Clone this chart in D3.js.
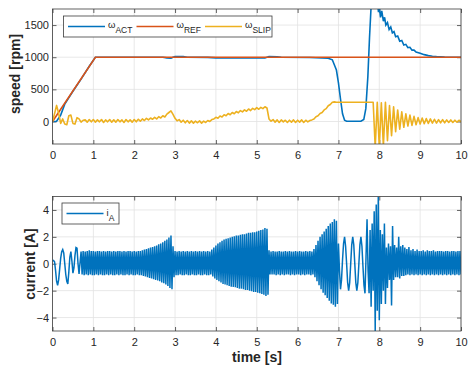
<!DOCTYPE html>
<html>
<head>
<meta charset="utf-8">
<script src="https://cdn.jsdelivr.net/npm/d3@7"></script>
<style>
  body { margin: 0; background: #fff; }
  svg { display: block; font-family: "Liberation Sans", Arial, sans-serif; }
</style>
</head>
<body>
<svg id="chart" width="474" height="368"></svg>
<script>
// ---- data ----
const timeTicks = [0, 1, 2, 3, 4, 5, 6, 7, 8, 9, 10];
const speedTicks = [0, 500, 1000, 1500];
const currentTicks = [-4, -2, 0, 2, 4];

// reference speed [t, rpm]
const wRef = [[0, 0], [1.05, 1000], [10, 1000]];

// actual speed [t, rpm]
const wAct = [
  [0, 0], [0.1, 5], [0.2, 100], [0.3, 270], [0.5, 470], [0.7, 660], [0.9, 860],
  [1.05, 1000], [2.7, 1000], [2.8, 990], [2.9, 985], [2.95, 1000], [3.0, 1012],
  [3.2, 1010], [3.3, 1000], [3.8, 998], [4.0, 990], [4.8, 988], [5.2, 988],
  [5.3, 1010], [5.5, 1005], [5.6, 1000], [6.3, 995], [6.6, 988], [6.75, 985],
  [6.85, 960], [6.95, 800], [7.0, 600], [7.05, 350], [7.1, 120], [7.15, 20],
  [7.2, 5], [7.55, 5], [7.62, 30], [7.67, 200], [7.72, 700], [7.76, 1300],
  [7.8, 1800], [7.85, 2100], [7.95, 1900], [7.98, 1700], [8.0, 1780],
  [8.03, 1620], [8.06, 1720], [8.1, 1560], [8.13, 1620], [8.16, 1500],
  [8.2, 1540], [8.24, 1430], [8.28, 1470], [8.32, 1380], [8.36, 1400],
  [8.4, 1320], [8.45, 1330], [8.5, 1250], [8.55, 1260], [8.6, 1190],
  [8.65, 1200], [8.7, 1150], [8.75, 1155], [8.8, 1110], [8.85, 1110],
  [8.9, 1080], [9.0, 1060], [9.1, 1040], [9.2, 1025], [9.3, 1015],
  [9.4, 1010], [9.6, 1004], [10, 1000]
];

// slip speed, one sample every 0.05 s
const slipDt = 0.05;
const wSlip = [
  0, 120, 250, 130, -30, 40, -40, -50, 90, 100, -30, -40, 60, 40, -10, 20, 25, -10, 30, -5,
  30, -10, 25, -5, 30, -15, 25, -5, 30, -10, 25, -10, 30, -5, 25, -15, 30, -5, 25, -10,
  30, -5, 35, 5, 40, 15, 50, 25, 55, 35, 65, 40, 75, 55, 90, 70, 115, 140, 165, 110,
  50, 10, 30, -10, 20, -20, 15, -25, 10, -25, 5, -20, 10, -25, 5, -15, 15, 0, 30, 40,
  65, 50, 85, 70, 105, 90, 125, 105, 140, 120, 155, 135, 170, 150, 180, 160, 195, 170, 205, 185,
  215, 190, 220, 200, 230, 210, 40, 5, 30, -10, 25, -15, 25, -5, 20, -15, 20, -10, 25, -15,
  20, -10, 25, -15, 20, -5, 15, 25, 40, 75, 90, 125, 140, 180, 200, 245, 265, 300, 305, 300,
  300, 300, 300, 300, 300, 300, 300, 300, 300, 300, 300, 300, 300, 300, 300, 300, 300, 300, -400, 300,
  -400, 290, -380, 300, -300, 250, -220, 230, -160, 180, -120, 150, -90, 120, -70, 100, -60, 80, -50, 60,
  -40, 55, -35, 45, -30, 40, -25, 35, -25, 30, -20, 30, -20, 25, -15, 25, -15, 20, -10, 20,
  -5
];

// phase current, one sample every 0.025 s
const iaDt = 0.025;
const iA = [
  0.2, 0.25, 0.15, -0.5, -1.3, -1.6, -1.2, -0.4, 0.4, 0.9, 1.05, 0.8, 0.0, -0.8, -1.3, -1.5, -0.6, 0.5, 0.9, 0.2,
  -0.7, -0.3, 0.6, 1.2, 1.15, 0.0, -0.75, 0.1, 0.9, -0.8, 0.95, -0.85, 0.9, -0.8, 0.95, -0.85, 1.0, -0.8, 0.95, -0.85,
  0.95, -0.85, 0.9, -0.8, 0.95, -0.85, 0.95, -0.8, 0.9, -0.85, 0.95, -0.85, 0.9, -0.8, 0.95, -0.85, 0.95, -0.8, 0.9, -0.85,
  0.95, -0.85, 0.9, -0.8, 0.95, -0.85, 0.95, -0.8, 0.9, -0.85, 0.95, -0.85, 0.9, -0.8, 0.95, -0.85, 0.95, -0.8, 0.9, -0.85,
  0.95, -0.85, 0.9, -0.8, 0.95, -0.85, 0.95, -0.85, 1.0, -0.9, 1.05, -0.95, 1.1, -1.0, 1.15, -1.05, 1.2, -1.1, 1.25, -1.15,
  1.3, -1.2, 1.35, -1.25, 1.45, -1.3, 1.5, -1.4, 1.6, -1.45, 1.7, -1.55, 1.8, -1.65, 1.95, -1.8, 2.1, -1.9, 1.3, -1.0,
  0.95, -0.85, 0.9, -0.85, 0.95, -0.8, 0.9, -0.85, 0.95, -0.85, 0.9, -0.8, 0.95, -0.85, 0.9, -0.85, 0.95, -0.8, 0.9, -0.85,
  0.95, -0.85, 0.9, -0.8, 0.95, -0.85, 0.9, -0.85, 0.95, -0.8, 0.9, -0.85, 0.95, -0.85, 0.9, -0.8, 1.05, -0.95, 1.2, -1.1,
  1.35, -1.2, 1.5, -1.3, 1.6, -1.4, 1.7, -1.5, 1.8, -1.55, 1.85, -1.6, 1.9, -1.65, 1.95, -1.7, 2.0, -1.72, 2.05, -1.75,
  2.1, -1.8, 2.1, -1.85, 2.15, -1.85, 2.2, -1.9, 2.2, -1.95, 2.25, -1.95, 2.3, -2.0, 2.3, -2.05, 2.35, -2.1, 2.35, -2.1,
  2.4, -2.15, 2.45, -2.2, 2.5, -2.25, 2.55, -2.3, 2.65, -2.4, 2.6, -2.3, 1.0, -0.8, 0.9, -0.8, 0.95, -0.8, 0.9, -0.85,
  0.9, -0.8, 0.95, -0.85, 0.9, -0.8, 0.9, -0.85, 0.95, -0.8, 0.9, -0.8, 0.95, -0.85, 0.9, -0.8, 0.9, -0.85, 0.95, -0.8,
  0.9, -0.8, 0.95, -0.85, 0.9, -0.8, 0.9, -0.85, 0.95, -0.8, 0.9, -0.8, 0.95, -0.85, 0.9, -0.8, 1.1, -1.0, 1.4, -1.3,
  1.7, -1.6, 2.0, -1.9, 2.2, -2.15, 2.4, -2.35, 2.6, -2.55, 2.8, -2.75, 3.0, -2.95, 3.1, -3.05, 3.3, -3.2, 3.2, -3.0,
  1.5, -0.5, -1.9, -1.2, 0.3, 1.5, 2.0, 1.3, 0.0, -1.4, -2.0, -1.4, 0.0, 1.4, 2.0, 1.4, 0.0, -1.4, -2.0, -1.4,
  0.0, 1.4, 2.0, 1.3, -0.2, -1.6, -2.2, 0.5, 3.3, -0.5, -2.2, 2.5, -3.2, 3.0, -2.0, 3.9, -5.0, 4.4, -3.5, 5.0,
  -4.2, 2.5, -3.0, 2.2, -2.0, 3.0, -3.0, 1.2, -1.8, 1.5, -1.2, 1.3, -3.1, 2.8, -1.2, 1.4, -1.0, 1.2, -1.0, 2.0,
  -1.1, 1.3, -0.9, 1.4, -0.9, 1.2, -0.85, 1.1, -0.8, 1.25, -0.85, 1.0, -0.8, 1.1, -0.85, 0.95, -0.8, 1.05, -0.85, 0.95,
  -0.8, 0.95, -0.85, 1.0, -0.8, 0.9, -0.85, 1.0, -0.8, 0.95, -0.85, 0.95, -0.8, 1.0, -0.85, 0.9, -0.8, 0.95, -0.85, 0.95,
  -0.8, 0.95, -0.85, 0.9, -0.8, 0.95, -0.85, 0.95, -0.8, 0.9, -0.85, 0.95, -0.8, 0.95, -0.85, 0.9, -0.8, 0.95, -0.85, 0.95,
  -0.8
];

const speedLegend = ["ACT", "REF", "SLIP"];
const currentLegend = ["A"];

// ---- layout / style ----
const colors = { act: "#0072BD", ref: "#D95319", slip: "#EDB120" };
const axisColor = "#3c3c3c";
const gridColor = "#e2e2e2";
const textColor = "#262626";

const svg = d3.select("#chart");
const x = d3.scaleLinear().domain([0, 10]).range([52.5, 461]);
const ySpeed = d3.scaleLinear().domain([-350, 1750]).range([144, 9]);
const yCurrent = d3.scaleLinear().domain([-5, 5]).range([331, 196.5]);

function drawAxes(id, y, yTicks) {
  const [bottom, top] = y.range();
  const [left, right] = x.range();
  const g = svg.append("g").attr("class", id);

  g.append("clipPath")
    .attr("id", `clip-${id}`)
    .append("rect")
    .attr("x", left)
    .attr("y", top)
    .attr("width", right - left)
    .attr("height", bottom - top);

  // grid
  g.append("g")
    .attr("stroke", gridColor)
    .attr("stroke-width", 0.8)
    .call((gg) =>
      gg.selectAll(".vgrid").data(timeTicks).join("line")
        .attr("class", "vgrid")
        .attr("x1", (d) => x(d)).attr("x2", (d) => x(d))
        .attr("y1", top).attr("y2", bottom)
    )
    .call((gg) =>
      gg.selectAll(".hgrid").data(yTicks).join("line")
        .attr("class", "hgrid")
        .attr("x1", left).attr("x2", right)
        .attr("y1", (d) => y(d)).attr("y2", (d) => y(d))
    );

  const styleAxis = (a) => {
    a.select(".domain").remove();
    a.selectAll(".tick line").attr("stroke", axisColor).attr("stroke-width", 0.8);
    a.selectAll(".tick text").attr("fill", textColor).attr("font-size", 11);
  };

  g.append("g")
    .attr("transform", `translate(0,${bottom})`)
    .call(d3.axisBottom(x).tickValues(timeTicks).tickSize(-4).tickPadding(7.5).tickFormat(d3.format("d")))
    .call(styleAxis);
  g.append("g")
    .attr("transform", `translate(0,${top})`)
    .call(d3.axisTop(x).tickValues(timeTicks).tickSize(-4).tickFormat(""))
    .call(styleAxis);
  g.append("g")
    .attr("transform", `translate(${left},0)`)
    .call(d3.axisLeft(y).tickValues(yTicks).tickSize(-4).tickPadding(3.5).tickFormat(d3.format("d")))
    .call(styleAxis);
  g.append("g")
    .attr("transform", `translate(${right},0)`)
    .call(d3.axisRight(y).tickValues(yTicks).tickSize(-4).tickFormat(""))
    .call(styleAxis);

  const plot = g.append("g").attr("clip-path", `url(#clip-${id})`);

  g.append("rect")
    .attr("x", left).attr("y", top)
    .attr("width", right - left).attr("height", bottom - top)
    .attr("fill", "none")
    .attr("stroke", axisColor)
    .attr("stroke-width", 0.8);

  return { g, plot };
}

// ---- speed panel ----
const speed = drawAxes("speed", ySpeed, speedTicks);
const speedLine = d3.line().x((d) => x(d[0])).y((d) => ySpeed(d[1]));
const slipPoints = wSlip.map((v, i) => [i * slipDt, v]);

speed.plot.append("path")
  .attr("d", speedLine(wAct))
  .attr("fill", "none").attr("stroke", colors.act).attr("stroke-width", 1.6);
speed.plot.append("path")
  .attr("d", speedLine(wRef))
  .attr("fill", "none").attr("stroke", colors.ref).attr("stroke-width", 1.6);
speed.plot.append("path")
  .attr("d", speedLine(slipPoints))
  .attr("fill", "none").attr("stroke", colors.slip).attr("stroke-width", 1.6)
  .attr("stroke-linejoin", "round");

// ---- current panel ----
const current = drawAxes("current", yCurrent, currentTicks);
const currentLine = d3.line().x((d) => x(d[0])).y((d) => yCurrent(d[1]));
current.plot.append("path")
  .attr("d", currentLine(iA.map((v, i) => [i * iaDt, v])))
  .attr("fill", "none").attr("stroke", colors.act).attr("stroke-width", 1.5);

// ---- legends ----
function legend(box, entries) {
  const g = svg.append("g");
  g.append("rect")
    .attr("x", box.x).attr("y", box.y)
    .attr("width", box.w).attr("height", box.h)
    .attr("fill", "#fff").attr("stroke", axisColor).attr("stroke-width", 0.8);
  const item = g.selectAll(".item").data(entries).join("g").attr("class", "item");
  item.append("line")
    .attr("x1", (d) => d.x).attr("x2", (d) => d.x + 37)
    .attr("y1", box.y + box.h / 2).attr("y2", box.y + box.h / 2)
    .attr("stroke", (d) => d.color).attr("stroke-width", 1.6);
  const t = item.append("text")
    .attr("x", (d) => d.x + 40)
    .attr("y", box.y + box.h / 2 + box.base)
    .attr("fill", textColor)
    .attr("font-size", 9.5);
  t.append("tspan").text((d) => d.sym);
  t.append("tspan").attr("dy", 5.5).attr("font-size", 8.5).text((d) => d.sub);
}

legend({ x: 63.5, y: 16, w: 208.5, h: 21, base: 1 }, [
  { x: 68, color: colors.act, sym: "\u03c9", sub: speedLegend[0] },
  { x: 136.5, color: colors.ref, sym: "\u03c9", sub: speedLegend[1] },
  { x: 205, color: colors.slip, sym: "\u03c9", sub: speedLegend[2] },
]);
legend({ x: 62, y: 203, w: 57, h: 21, base: 2 }, [
  { x: 66.5, color: colors.act, sym: "i", sub: currentLegend[0] },
]);

// ---- axis titles ----
const titleStyle = (s) =>
  s.attr("fill", textColor).attr("font-size", 14).attr("font-weight", "bold").attr("text-anchor", "middle");

svg.append("text")
  .attr("transform", "translate(20,74) rotate(-90)")
  .call(titleStyle)
  .text("speed [rpm]");
svg.append("text")
  .attr("transform", "translate(34.5,264) rotate(-90)")
  .call(titleStyle)
  .text("current [A]");
svg.append("text")
  .attr("x", 257).attr("y", 362)
  .call(titleStyle)
  .text("time [s]");
</script>
</body>
</html>
